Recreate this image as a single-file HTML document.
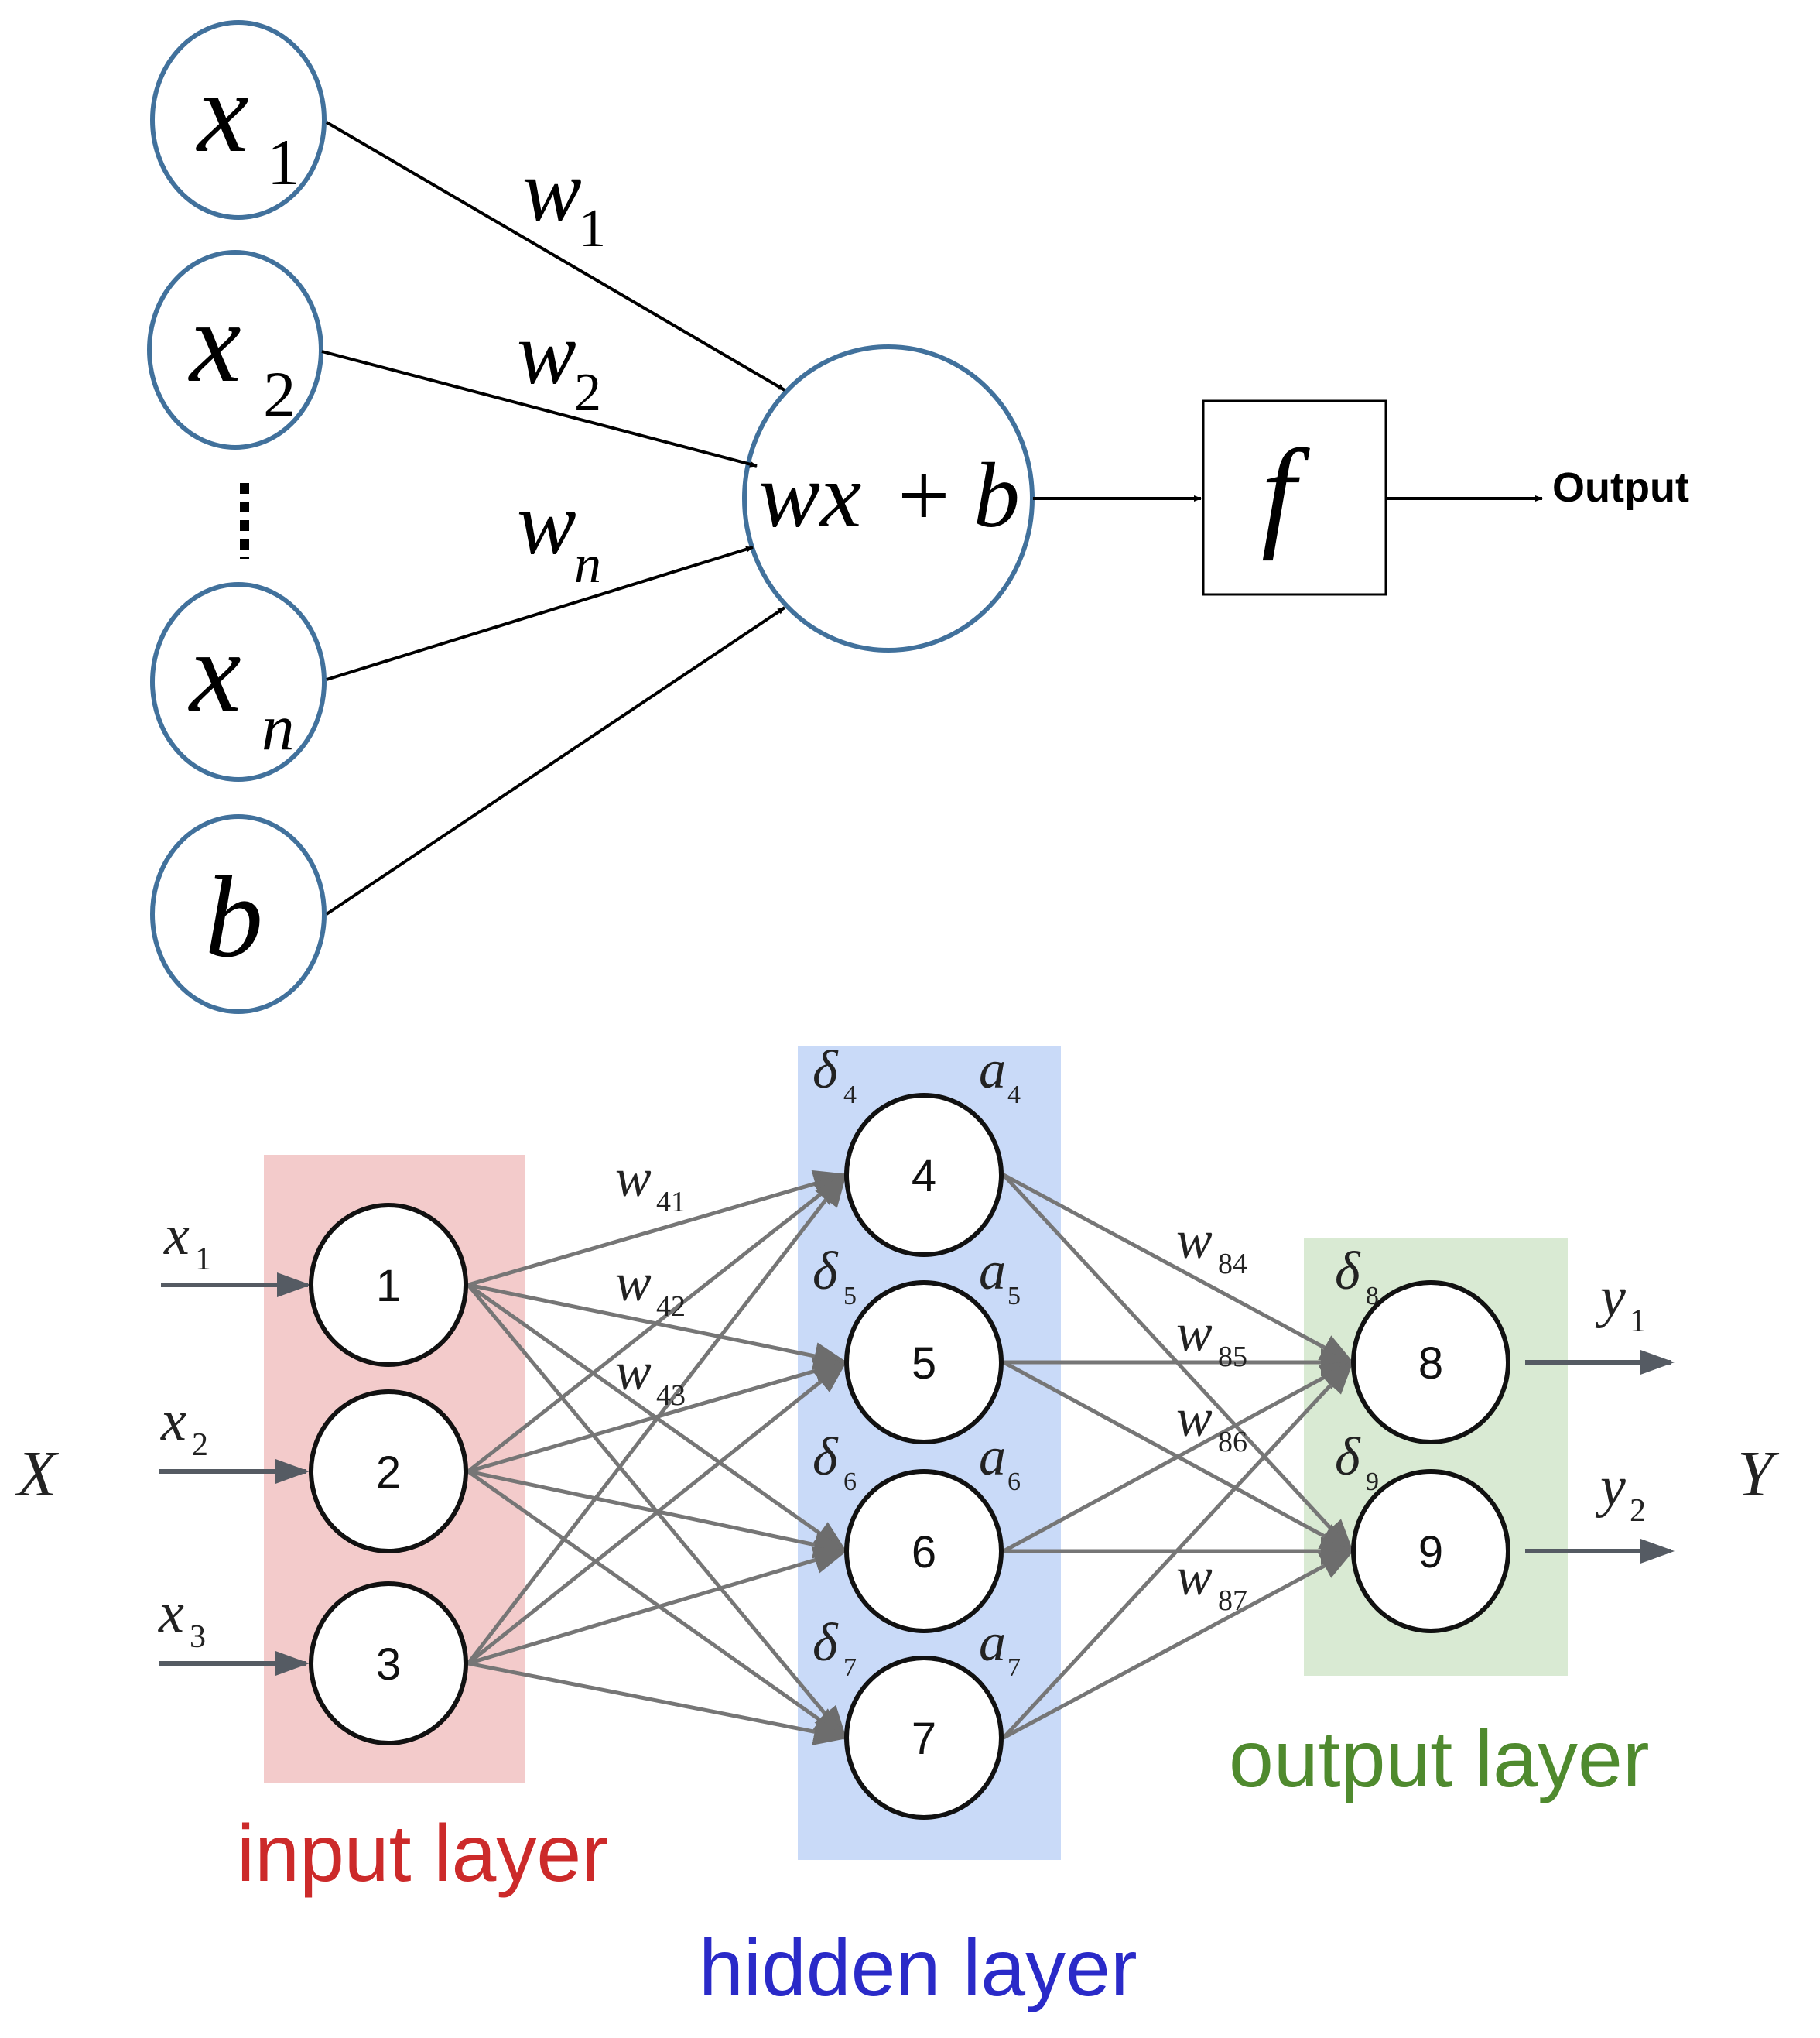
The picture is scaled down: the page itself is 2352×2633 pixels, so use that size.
<!DOCTYPE html>
<html><head><meta charset="utf-8"><style>html,body{margin:0;padding:0;background:#fff}svg{display:block}</style></head>
<body>
<svg width="2352" height="2633" viewBox="0 0 2352 2633" xmlns="http://www.w3.org/2000/svg">
<defs>
<marker id="ab" markerWidth="10" markerHeight="10" refX="9" refY="5" orient="auto" markerUnits="userSpaceOnUse"><path d="M0,1 L10,5 L0,9 z" fill="#000"/></marker>
<marker id="ag" markerWidth="44" markerHeight="44" refX="40" refY="22" orient="auto" markerUnits="userSpaceOnUse"><path d="M0,4 L44,22 L0,40 z" fill="#6d6d6d"/></marker>
<marker id="ad" markerWidth="44" markerHeight="40" refX="40" refY="20" orient="auto" markerUnits="userSpaceOnUse"><path d="M0,4 L44,20 L0,36 z" fill="#555b63"/></marker>
</defs>
<!-- TOP -->
<g fill="none" stroke="#41719c" stroke-width="6">
<ellipse cx="308" cy="155" rx="111" ry="126"/>
<ellipse cx="304" cy="452" rx="111" ry="126"/>
<ellipse cx="308" cy="881" rx="111" ry="126"/>
<ellipse cx="308" cy="1181" rx="111" ry="126"/>
<ellipse cx="1148" cy="644" rx="186" ry="196"/>
</g>
<g stroke="#000" stroke-width="4" marker-end="url(#ab)">
<line x1="422" y1="158" x2="1014" y2="504"/>
<line x1="416" y1="454" x2="978" y2="602"/>
<line x1="422" y1="878" x2="973" y2="707"/>
<line x1="422" y1="1181" x2="1014" y2="785"/>
<line x1="1335" y1="644" x2="1552" y2="644"/>
<line x1="1791" y1="644" x2="1993" y2="644"/>
</g>
<line x1="316" y1="624" x2="316" y2="722" stroke="#000" stroke-width="12" stroke-dasharray="14,10"/>
<rect x="1555" y="518" width="236" height="250" fill="none" stroke="#000" stroke-width="3"/>
<g font-family="Liberation Serif, serif" font-style="italic" fill="#000">
<text x="255" y="195" font-size="150">x</text><text x="345" y="238" font-size="85" font-style="normal">1</text>
<text x="245" y="492" font-size="150">x</text><text x="340" y="538" font-size="85" font-style="normal">2</text>
<text x="245" y="918" font-size="150">x</text><text x="338" y="968" font-size="85">n</text>
<text x="265" y="1235" font-size="150">b</text>
<text x="675" y="285" font-size="115">w</text><text x="748" y="318" font-size="70" font-style="normal">1</text>
<text x="668" y="495" font-size="115">w</text><text x="742" y="530" font-size="70" font-style="normal">2</text>
<text x="668" y="715" font-size="115">w</text><text x="742" y="752" font-size="70">n</text>
<text x="980" y="680" font-size="120">wx</text><text x="1160" y="680" font-size="120" font-style="normal">+</text><text x="1258" y="680" font-size="120">b</text>
<text x="1630" y="690" font-size="160">f</text>
</g>
<text x="2006" y="648" font-family="Liberation Sans, sans-serif" font-weight="bold" font-size="54">Output</text>
<!-- BOTTOM -->
<rect x="341" y="1492" width="338" height="811" fill="#f3cbcb"/>
<rect x="1031" y="1352" width="340" height="1051" fill="#c9daf8"/>
<rect x="1685" y="1600" width="341" height="565" fill="#d9ead3"/>
<g stroke="#767676" stroke-width="5" fill="none" marker-end="url(#ag)">
<line x1="605" y1="1660" x2="1092" y2="1518"/><line x1="605" y1="1660" x2="1092" y2="1760"/><line x1="605" y1="1660" x2="1092" y2="2004"/><line x1="605" y1="1660" x2="1092" y2="2245"/>
<line x1="605" y1="1901" x2="1092" y2="1518"/><line x1="605" y1="1901" x2="1092" y2="1760"/><line x1="605" y1="1901" x2="1092" y2="2004"/><line x1="605" y1="1901" x2="1092" y2="2245"/>
<line x1="605" y1="2149" x2="1092" y2="1518"/><line x1="605" y1="2149" x2="1092" y2="1760"/><line x1="605" y1="2149" x2="1092" y2="2004"/><line x1="605" y1="2149" x2="1092" y2="2245"/>
<line x1="1297" y1="1518" x2="1747" y2="1760"/><line x1="1297" y1="1518" x2="1747" y2="2004"/>
<line x1="1297" y1="1760" x2="1747" y2="1760"/><line x1="1297" y1="1760" x2="1747" y2="2004"/>
<line x1="1297" y1="2004" x2="1747" y2="1760"/><line x1="1297" y1="2004" x2="1747" y2="2004"/>
<line x1="1297" y1="2245" x2="1747" y2="1760"/><line x1="1297" y1="2245" x2="1747" y2="2004"/>
</g>
<g stroke="#555b63" stroke-width="6" marker-end="url(#ad)">
<line x1="208" y1="1660" x2="398" y2="1660"/><line x1="205" y1="1901" x2="396" y2="1901"/><line x1="205" y1="2149" x2="396" y2="2149"/>
<line x1="1971" y1="1760" x2="2160" y2="1760"/><line x1="1971" y1="2004" x2="2160" y2="2004"/>
</g>
<g fill="#fff" stroke="#111" stroke-width="6">
<ellipse cx="502" cy="1660" rx="100" ry="103"/><ellipse cx="502" cy="1901" rx="100" ry="103"/><ellipse cx="502" cy="2149" rx="100" ry="103"/>
<ellipse cx="1194" cy="1518" rx="100" ry="103"/><ellipse cx="1194" cy="1760" rx="100" ry="103"/><ellipse cx="1194" cy="2004" rx="100" ry="103"/><ellipse cx="1194" cy="2245" rx="100" ry="103"/>
<ellipse cx="1849" cy="1760" rx="100" ry="103"/><ellipse cx="1849" cy="2004" rx="100" ry="103"/>
</g>
<g font-family="Liberation Sans, sans-serif" font-size="58" text-anchor="middle" fill="#111">
<text x="502" y="1681">1</text><text x="502" y="1922">2</text><text x="502" y="2170">3</text>
<text x="1194" y="1539">4</text><text x="1194" y="1781">5</text><text x="1194" y="2025">6</text><text x="1194" y="2266">7</text>
<text x="1849" y="1781">8</text><text x="1849" y="2025">9</text>
</g>
<g font-family="Liberation Serif, serif" font-style="italic" fill="#222">
<text x="212" y="1620" font-size="74">x</text><text x="252" y="1640" font-size="42" font-style="normal">1</text>
<text x="208" y="1860" font-size="74">x</text><text x="248" y="1880" font-size="42" font-style="normal">2</text>
<text x="205" y="2108" font-size="74">x</text><text x="245" y="2128" font-size="42" font-style="normal">3</text>
<text x="22" y="1932" font-size="84">X</text><text x="2245" y="1932" font-size="84">Y</text>
<text x="2068" y="1700" font-size="74">y</text><text x="2106" y="1720" font-size="42" font-style="normal">1</text>
<text x="2068" y="1945" font-size="74">y</text><text x="2106" y="1965" font-size="42" font-style="normal">2</text>
<text x="795" y="1545" font-size="70">w</text><text x="848" y="1565" font-size="38" font-style="normal">41</text>
<text x="795" y="1680" font-size="70">w</text><text x="848" y="1700" font-size="38" font-style="normal">42</text>
<text x="795" y="1795" font-size="70">w</text><text x="848" y="1815" font-size="38" font-style="normal">43</text>
<text x="1520" y="1625" font-size="70">w</text><text x="1574" y="1645" font-size="38" font-style="normal">84</text>
<text x="1520" y="1745" font-size="70">w</text><text x="1574" y="1765" font-size="38" font-style="normal">85</text>
<text x="1520" y="1855" font-size="70">w</text><text x="1574" y="1875" font-size="38" font-style="normal">86</text>
<text x="1520" y="2060" font-size="70">w</text><text x="1574" y="2080" font-size="38" font-style="normal">87</text>
<text x="1050" y="1405" font-size="70">δ</text><text x="1090" y="1425" font-size="34" font-style="normal">4</text>
<text x="1265" y="1405" font-size="70">a</text><text x="1302" y="1425" font-size="34" font-style="normal">4</text>
<text x="1050" y="1665" font-size="70">δ</text><text x="1090" y="1685" font-size="34" font-style="normal">5</text>
<text x="1265" y="1665" font-size="70">a</text><text x="1302" y="1685" font-size="34" font-style="normal">5</text>
<text x="1050" y="1905" font-size="70">δ</text><text x="1090" y="1925" font-size="34" font-style="normal">6</text>
<text x="1265" y="1905" font-size="70">a</text><text x="1302" y="1925" font-size="34" font-style="normal">6</text>
<text x="1050" y="2145" font-size="70">δ</text><text x="1090" y="2165" font-size="34" font-style="normal">7</text>
<text x="1265" y="2145" font-size="70">a</text><text x="1302" y="2165" font-size="34" font-style="normal">7</text>
<text x="1725" y="1665" font-size="70">δ</text><text x="1765" y="1685" font-size="34" font-style="normal">8</text>
<text x="1725" y="1905" font-size="70">δ</text><text x="1765" y="1925" font-size="34" font-style="normal">9</text>
</g>
<g font-family="Liberation Sans, sans-serif" font-size="104">
<text x="306" y="2430" fill="#cc2a2a">input layer</text>
<text x="1588" y="2308" fill="#4f8a2e">output layer</text>
<text x="903" y="2578" fill="#2a2ac8">hidden layer</text>
</g>
</svg>
</body></html>
